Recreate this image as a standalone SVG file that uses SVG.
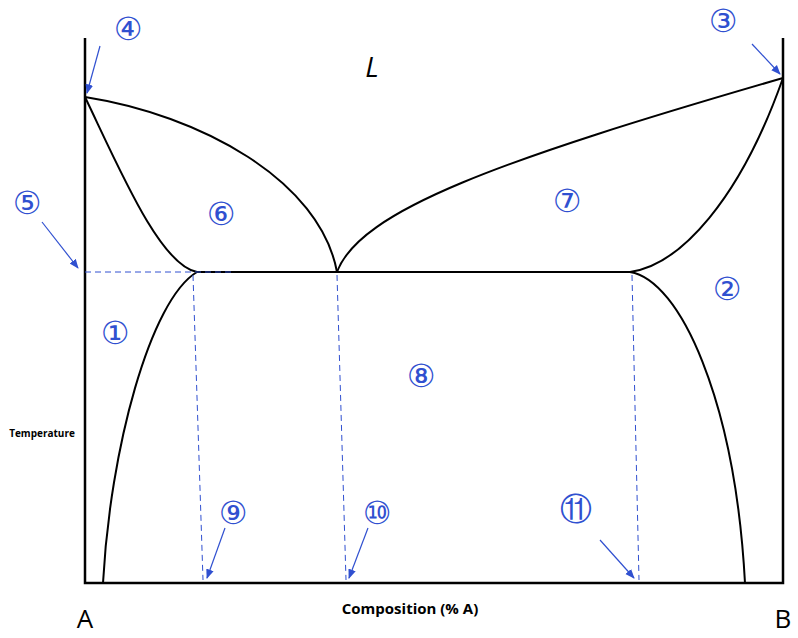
<svg xmlns="http://www.w3.org/2000/svg" width="798" height="638" viewBox="0 0 798 638">
<style>
.k{fill:none;stroke:#000;stroke-width:2.5}
.c{fill:none;stroke:#000;stroke-width:2}
.d{fill:none;stroke:#3050d0;stroke-width:1;stroke-dasharray:6 4}
.a{fill:none;stroke:#3050d0;stroke-width:1.2;marker-end:url(#m)}
.n{font-family:"DejaVu Sans",sans-serif;font-size:32px;fill:#3050d0;text-anchor:middle}
.t{font-family:"Open Sans",sans-serif;fill:#000;text-anchor:middle}
</style>
<defs><marker id="m" viewBox="0 0 10 10" refX="9" refY="5" markerWidth="8" markerHeight="8" orient="auto"><path d="M0,1 L10,5 L0,9 z" fill="#3050d0"/></marker></defs>
<rect width="798" height="638" fill="#fff"/>
<g id="axes"><path class="k" d="M85,38 V583 H783 V38"/></g>
<g id="curves">
<path class="c" d="M85,97 C200,115 320,180 337,272"/>
<path class="c" d="M85,97 C120,170 160,265 197,272"/>
<path class="c" d="M337,272 C360,210 500,160 783,78"/>
<path class="c" d="M783,78 C740,200 680,265 630,272"/>
<path class="c" d="M197,272 H630"/>
<path class="c" d="M197,272 C150,300 110,450 103,583"/>
<path class="c" d="M630,272 C680,280 735,400 745,583"/>
</g>
<g id="connectors">
<path class="d" d="M85,272 H235 M193,275 L203,580 M337,275 L346,580 M632,275 L639,580"/>
<path class="a" d="M100,46 L87,93"/>
<path class="a" d="M752,44 L780,74"/>
<path class="a" d="M42,222 L78,268"/>
<path class="a" d="M225,528 L207,578"/>
<path class="a" d="M368,528 L349,578"/>
<path class="a" d="M600,540 L634,578"/>
</g>
<g id="labels">
<text class="n" x="128" y="40">④</text>
<text class="n" x="723" y="32">③</text>
<text class="n" x="27" y="214">⑤</text>
<text class="n" x="221" y="225">⑥</text>
<text class="n" x="567" y="212">⑦</text>
<text class="n" x="727" y="300">②</text>
<text class="n" x="115" y="344">①</text>
<text class="n" x="421" y="387">⑧</text>
<text class="n" x="233" y="524">⑨</text>
<text class="n" x="377" y="524" font-size="36">⑩</text>
<text class="n" x="576" y="520" font-size="28">⑪</text>
<text class="t" x="372" y="77" font-size="28" font-style="italic">L</text>
<text class="t" x="85" y="628" font-size="26">A</text>
<text class="t" x="783" y="628" font-size="26">B</text>
<text class="t" x="410" y="614" font-size="15" font-weight="bold">Composition (% A)</text>
<text class="t" x="42" y="437" font-size="10" font-weight="bold">Temperature</text>
</g>
</svg>
